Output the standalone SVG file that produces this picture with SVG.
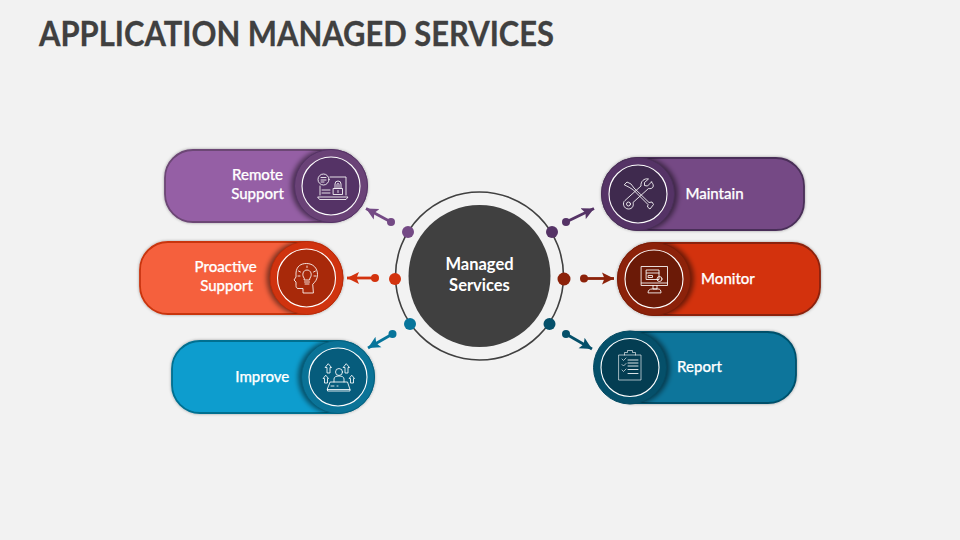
<svg xmlns="http://www.w3.org/2000/svg" width="960" height="540" viewBox="0 0 960 540">
<style>
text{font-family:"Lato","Open Sans","Liberation Sans",sans-serif;text-anchor:middle;fill:#fff}
.title{font-size:34px;font-weight:700;fill:#404040;text-anchor:start;stroke:#404040;stroke-width:.3}
.lbl{font-size:15px;font-weight:500;stroke:#fff;stroke-width:.25}
.ctr{font-size:16.5px;font-weight:700}
.ring{fill:none;stroke:#fff;stroke-width:1.1}
.ic{fill:none;stroke:#fff;stroke-width:.85;stroke-linejoin:round;stroke-linecap:round}
.pill{stroke-width:1.800;filter:url(#sh)}
.c{fill:none;stroke-width:2.800}
.cs{fill:#000;fill-opacity:.5;filter:url(#bl)}
</style>
<defs>
<filter id="sh" x="-10%" y="-20%" width="120%" height="140%"><feDropShadow dx="0" dy="0" stdDeviation="1.500" flood-color="#000" flood-opacity=".35"/></filter>
<filter id="bl" x="-30%" y="-30%" width="160%" height="160%"><feGaussianBlur stdDeviation="2.500"/></filter>
<clipPath id="k1"><path d="M193 150H331A36 36 0 0 1 331 222H193A28 28 0 0 1 165 194V178A28 28 0 0 1 193 150Z"/></clipPath>
<clipPath id="k2"><path d="M168 242H306.500A36 36 0 0 1 306.500 314H168A28 28 0 0 1 140 286V270A28 28 0 0 1 168 242Z"/></clipPath>
<clipPath id="k3"><path d="M200 341H338A36 36 0 0 1 338 413H200A28 28 0 0 1 172 385V369A28 28 0 0 1 200 341Z"/></clipPath>
<clipPath id="k4"><path d="M638 158H776A28 28 0 0 1 804 186V202A28 28 0 0 1 776 230H638A36 36 0 0 1 638 158Z"/></clipPath>
<clipPath id="k5"><path d="M654 243H792A28 28 0 0 1 820 271V287A28 28 0 0 1 792 315H654A36 36 0 0 1 654 243Z"/></clipPath>
<clipPath id="k6"><path d="M630 332H768A28 28 0 0 1 796 360V375A28 28 0 0 1 768 403H630A36 36 0 0 1 630 332Z"/></clipPath>
<marker id="a1" markerUnits="userSpaceOnUse" markerWidth="13" markerHeight="13" refX="12" refY="6.500" orient="auto"><path d="M0 .5L12 6.500L0 12.500L2.500 6.500Z" fill="#744A85"/></marker>
<marker id="a2" markerUnits="userSpaceOnUse" markerWidth="13" markerHeight="13" refX="12" refY="6.500" orient="auto"><path d="M0 .5L12 6.500L0 12.500L2.500 6.500Z" fill="#D3330E"/></marker>
<marker id="a3" markerUnits="userSpaceOnUse" markerWidth="13" markerHeight="13" refX="12" refY="6.500" orient="auto"><path d="M0 .5L12 6.500L0 12.500L2.500 6.500Z" fill="#07759B"/></marker>
<marker id="a4" markerUnits="userSpaceOnUse" markerWidth="13" markerHeight="13" refX="12" refY="6.500" orient="auto"><path d="M0 .5L12 6.500L0 12.500L2.500 6.500Z" fill="#553366"/></marker>
<marker id="a5" markerUnits="userSpaceOnUse" markerWidth="13" markerHeight="13" refX="12" refY="6.500" orient="auto"><path d="M0 .5L12 6.500L0 12.500L2.500 6.500Z" fill="#8C220A"/></marker>
<marker id="a6" markerUnits="userSpaceOnUse" markerWidth="13" markerHeight="13" refX="12" refY="6.500" orient="auto"><path d="M0 .5L12 6.500L0 12.500L2.500 6.500Z" fill="#05506A"/></marker>
</defs>
<rect width="960" height="540" fill="#f2f2f2"/>
<text class="title" x="39" y="46" textLength="515" lengthAdjust="spacingAndGlyphs">APPLICATION MANAGED SERVICES</text>

<g id="connectors">
<g id="conn-remote"><path class="c" stroke="#744A85" marker-end="url(#a1)" d="M391 222L366 208.500"/><circle cx="391" cy="222" r="4" fill="#744A85"/></g>
<g id="conn-proactive"><path class="c" stroke="#D3330E" marker-end="url(#a2)" d="M375 278H347"/><circle cx="375" cy="278" r="4" fill="#D3330E"/></g>
<g id="conn-improve"><path class="c" stroke="#07759B" marker-end="url(#a3)" d="M392.500 334L368 348"/><circle cx="392.500" cy="334" r="4" fill="#07759B"/></g>
<g id="conn-maintain"><path class="c" stroke="#553366" marker-end="url(#a4)" d="M566 222L594 208.500"/><circle cx="566" cy="222" r="4" fill="#553366"/></g>
<g id="conn-monitor"><path class="c" stroke="#8C220A" marker-end="url(#a5)" d="M584 278.500H614"/><circle cx="584" cy="278.500" r="4" fill="#8C220A"/></g>
<g id="conn-report"><path class="c" stroke="#05506A" marker-end="url(#a6)" d="M566 334L592 349"/><circle cx="566" cy="334" r="4" fill="#05506A"/></g>
</g>

<g id="center">
<circle cx="479.500" cy="276" r="84" fill="none" stroke="#404040" stroke-width="1.600"/>
<circle cx="479.500" cy="276" r="71" fill="#404040"/>
<circle cx="408" cy="232" r="6" fill="#744A85"/>
<circle cx="395" cy="279" r="6" fill="#D3330E"/>
<circle cx="410" cy="324" r="6" fill="#07759B"/>
<circle cx="552" cy="232" r="6" fill="#553366"/>
<circle cx="564" cy="279" r="6.500" fill="#8C220A"/>
<circle cx="549.500" cy="324" r="6" fill="#05506A"/>
<text class="ctr" x="479.500" y="270">Managed</text>
<text class="ctr" x="479.500" y="291">Services</text>
</g>

<g id="remote-support">
<path class="pill" d="M193 150H331A36 36 0 0 1 331 222H193A28 28 0 0 1 165 194V178A28 28 0 0 1 193 150Z" fill="#955FA5" stroke="#6C4675"/>
<g clip-path="url(#k1)"><circle class="cs" cx="328" cy="186" r="37"/></g>
<circle cx="331" cy="186" r="36.500" fill="#6A4277" stroke="#553366" stroke-width="1"/>
<circle cx="331" cy="186" r="29" fill="#553366"/>
<circle class="ring" cx="331" cy="186" r="29"/>
<path class="ic" d="M330 177H346V195M320 186V195M318 197H348L346 199.500H320Z"/>
<circle class="ic" cx="323.500" cy="179.500" r="5.500"/>
<path class="ic" d="M321 177.500H326M321 180H326M321 182H324M322 190H330M322 193H330"/>
<path class="ic" d="M335 188.500V184A3 3 0 0 1 341 184V188.500M333.500 188.500H342.500V194.500H333.500Z"/>
<path class="ic" d="M337 188.500V184.500A1 1 0 0 1 339 184.500V188.500M338 190.500V192.500"/>
<text class="lbl" x="257.500" y="180">Remote</text>
<text class="lbl" x="257.500" y="199">Support</text>
</g>

<g id="proactive-support">
<path class="pill" d="M168 242H306.500A36 36 0 0 1 306.500 314H168A28 28 0 0 1 140 286V270A28 28 0 0 1 168 242Z" fill="#F5613C" stroke="#C9340F"/>
<g clip-path="url(#k2)"><circle class="cs" cx="303.500" cy="278" r="37"/></g>
<circle cx="306.500" cy="278" r="36.500" fill="#D0330F" stroke="#B82C0B" stroke-width="1"/>
<circle cx="306.500" cy="278" r="29" fill="#A8290A"/>
<circle class="ring" cx="306.500" cy="278" r="29"/>
<path class="ic" d="M313 293H303V288.500H298C296.500 288.500 296 287 296 285.500V282L294 280L296 277V273C296.500 266 301 263.500 306.500 263.500C313 263.500 317.500 268 317.500 274.500C317.500 279.500 315 282 313 284Z"/>
<path class="ic" d="M304 278C301.500 275 303 270 307 270C311 270 312.500 275 310 278L309.500 280H304.500ZM304.500 282H309.500M305 284H309M298.500 271L300.500 272M315.500 271L313.500 272M298 276H300M314 276H316M307 266V267.500"/>
<text class="lbl" x="225.700" y="272">Proactive</text>
<text class="lbl" x="226.500" y="291">Support</text>
</g>

<g id="improve">
<path class="pill" d="M200 341H338A36 36 0 0 1 338 413H200A28 28 0 0 1 172 385V369A28 28 0 0 1 200 341Z" fill="#099DCE" stroke="#056F90"/>
<g clip-path="url(#k3)"><circle class="cs" cx="335" cy="377" r="37"/></g>
<circle cx="338" cy="377" r="36.500" fill="#0A7397" stroke="#05607E" stroke-width="1"/>
<circle cx="338" cy="377" r="29" fill="#065C7C"/>
<circle class="ring" cx="338" cy="377" r="29"/>
<circle class="ic" cx="339" cy="372" r="3.500"/>
<path class="ic" d="M334 382V379C334 377 336 376 339 376C342 376 344 377 344 379V382M330.500 382H347.500L350 389.500H327.500ZM327.500 389.500V391H350V389.500M331 386H334M337 386H338"/>
<path class="ic" d="M328.500 364L331.500 367.500H330V373H327V367.500H325.500ZM346.500 364L349.500 367.500H348V373H345V367.500H343.500ZM326 375.500L328.500 378.500H327.500V383H324.500V378.500H323.500ZM352 375.500L354.500 378.500H353.500V383H350.500V378.500H349.500Z"/>
<text class="lbl" x="262.300" y="382">Improve</text>
</g>

<g id="maintain">
<path class="pill" d="M638 158H776A28 28 0 0 1 804 186V202A28 28 0 0 1 776 230H638A36 36 0 0 1 638 158Z" fill="#744A85" stroke="#4A2F58"/>
<g clip-path="url(#k4)"><circle class="cs" cx="641" cy="194" r="37"/></g>
<circle cx="638" cy="194" r="36.500" fill="#553366" stroke="#4A2F58" stroke-width="1"/>
<circle cx="638" cy="194" r="29" fill="#3F2A4E"/>
<circle class="ring" cx="638" cy="194" r="29"/>
<g transform="translate(0 1.500)">
<path class="ic" d="M624.500 183L627 180.500L631 182.500L634 186.500L649 201L652 200.500L653.500 203L650 207.500L647.500 205.500L648 203L633.500 188.500L629.500 186Z"/>
<path class="ic" d="M651.500 180.500L647.500 184.500L644.500 184V181L648.500 177.500C644 176.500 640.500 180 641 184.500L625 199C622 201 623.500 207.500 628.500 207.500C632.500 207.500 634 204 633 201L648.500 187C652.500 188 655.500 184.500 651.500 180.500Z"/>
<circle class="ic" cx="628.500" cy="202.500" r="2"/>
</g>
<text class="lbl" x="714.500" y="199">Maintain</text>
</g>

<g id="monitor">
<path class="pill" d="M654 243H792A28 28 0 0 1 820 271V287A28 28 0 0 1 792 315H654A36 36 0 0 1 654 243Z" fill="#D3330E" stroke="#8C220A"/>
<g clip-path="url(#k5)"><circle class="cs" cx="657" cy="279" r="37"/></g>
<circle cx="654" cy="279" r="36.500" fill="#8C220A" stroke="#7A1D08" stroke-width="1"/>
<circle cx="654" cy="279" r="29" fill="#6B1A07"/>
<circle class="ring" cx="654" cy="279" r="29"/>
<path class="ic" d="M641.500 266.500H667.500V285.500H641.500ZM641.500 283H667.500M653 285.500V289H657V285.500M648 292.500C648 290 650 289 652 289H658C660 289 661 290 661 292.500Z"/>
<path class="ic" d="M646.500 270H659V279.500H646.500ZM646.500 273H659M648.500 275.500H652.500V277.500H648.500Z"/>
<circle class="ic" cx="659.500" cy="279" r="2.500"/>
<text class="lbl" x="728" y="284">Monitor</text>
</g>

<g id="report">
<path class="pill" d="M630 332H768A28 28 0 0 1 796 360V375A28 28 0 0 1 768 403H630A36 36 0 0 1 630 332Z" fill="#07759B" stroke="#05506A"/>
<g clip-path="url(#k6)"><circle class="cs" cx="633" cy="367.500" r="37"/></g>
<circle cx="630" cy="367.500" r="36.500" fill="#05506A" stroke="#044A62" stroke-width="1"/>
<circle cx="630" cy="367.500" r="29" fill="#043D52"/>
<circle class="ring" cx="630" cy="367.500" r="29"/>
<path class="ic" stroke-opacity=".75" d="M619 355H641V380H619ZM624.500 355V352.500H627.500V350.500H632.500V352.500H635.500V355"/>
<path class="ic" stroke-opacity=".75" d="M622 359L623.500 360.500L626 358M622 364.500L623.500 366L626 363.500M622 370L623.500 371.500L626 369"/>
<path class="ic" stroke-width="1.300" d="M628 360H638M628 363H638M628 366H638M628 369.500H638M628 373.500H638"/>
<text class="lbl" x="699.500" y="372">Report</text>
</g>
</svg>
